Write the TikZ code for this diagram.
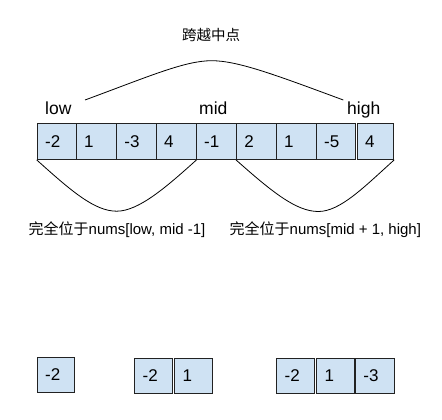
\documentclass[tikz,border=0pt]{standalone}
\usepackage{fontspec}
\setmainfont{Liberation Sans}
\newfontfamily\cjk{Noto Sans CJK SC}
\definecolor{cellblue}{HTML}{CFE2F3}
\definecolor{celledge}{HTML}{222222}
\tikzset{
  cell/.style={draw=celledge, fill=cellblue, line width=0.8pt, anchor=west,
    minimum height=36pt, inner xsep=8pt, inner ysep=0pt, align=left,
    font=\fontsize{17}{19}\selectfont},
  idx/.style={anchor=base west, inner sep=0pt, font=\fontsize{17.5}{20}\selectfont},
  note/.style={inner sep=0pt, font=\fontsize{15}{17}\selectfont},
  arc/.style={line width=0.8pt, draw=black}
}
\begin{document}
\begin{tikzpicture}[x=1pt,y=-1pt]
\useasboundingbox (0,0) rectangle (442,420);
% title
\node[note, font=\fontsize{14.5}{17}\selectfont] (title) at (211,35) {\cjk 跨越中点};
% index labels
\node[idx] (low) at (45,114.3) {low};
\node[idx] (mid) at (199,114.3) {mid};
\node[idx] (high) at (347,114.3) {high};
% main array
\node[cell, minimum width=39pt, text width=23pt] (c1) at (36.7,141.5) {-2};
\node[cell, minimum width=40.3pt, text width=24.3pt] (c2) at (75.7,141.5) {1};
\node[cell, minimum width=39.7pt, text width=23.7pt] (c3) at (116,141.5) {-3};
\node[cell, minimum width=40pt, text width=24pt] (c4) at (155.7,141.5) {4};
\node[cell, minimum width=40.3pt, text width=24.3pt] (c5) at (195.7,141.5) {-1};
\node[cell, minimum width=39.7pt, text width=23.7pt] (c6) at (236,141.5) {2};
\node[cell, minimum width=40pt, text width=24pt] (c7) at (275.7,141.5) {1};
\node[cell, minimum width=39.3pt, text width=23.3pt] (c8) at (315.7,141.5) {-5};
\node[cell, minimum width=36.7pt, text width=20.7pt] (c9) at (356.7,141.5) {4};
% top arc
\coordinate (arcL) at (85,100);
\coordinate (arcT) at (211.7,60.7);
\coordinate (arcR) at (343.3,100);
\draw[arc] (arcL) .. controls +(65,-24) and +(-26.7,0) .. (arcT)
  .. controls +(26.7,0) and +(-65,-24) .. (arcR);
% bottom arcs
\coordinate (lbot) at (116.7,211.2);
\coordinate (rbot) at (318.3,211.5);
\draw[arc] (c1.south west) .. controls +(35,31.5) and +(-22,0) .. (lbot)
  .. controls +(22,0) and +(-30,27) .. (c4.south east);
\draw[arc] (c6.south west) .. controls +(36,32) and +(-22,0) .. (rbot)
  .. controls +(22,0) and +(-30,27) .. (c9.south east);
% notes
\node[note, anchor=west] (leftnote) at (28.5,230) {{\cjk 完全位于}nums[low, mid -1]};
\node[note, anchor=west] (rightnote) at (229.5,230) {{\cjk 完全位于}nums[mid + 1, high]};
% bottom examples
\node[cell, minimum width=37.6pt, text width=21.6pt, minimum height=35pt] (a1) at (36.7,374.8) {-2};
\node[cell, minimum width=38pt, text width=22pt, minimum height=35pt] (b1) at (134.3,375.8) {-2};
\node[cell, minimum width=38pt, text width=22pt, minimum height=35pt] (b2) at (174.3,375.8) {1};
\node[cell, minimum width=38pt, text width=22pt, minimum height=35pt] (d1) at (276.3,375.8) {-2};
\node[cell, minimum width=38pt, text width=22pt, minimum height=35pt] (d2) at (316.3,375.8) {1};
\node[cell, minimum width=39pt, text width=23pt, minimum height=35pt] (d3) at (355,375.8) {-3};
\end{tikzpicture}
\end{document}
